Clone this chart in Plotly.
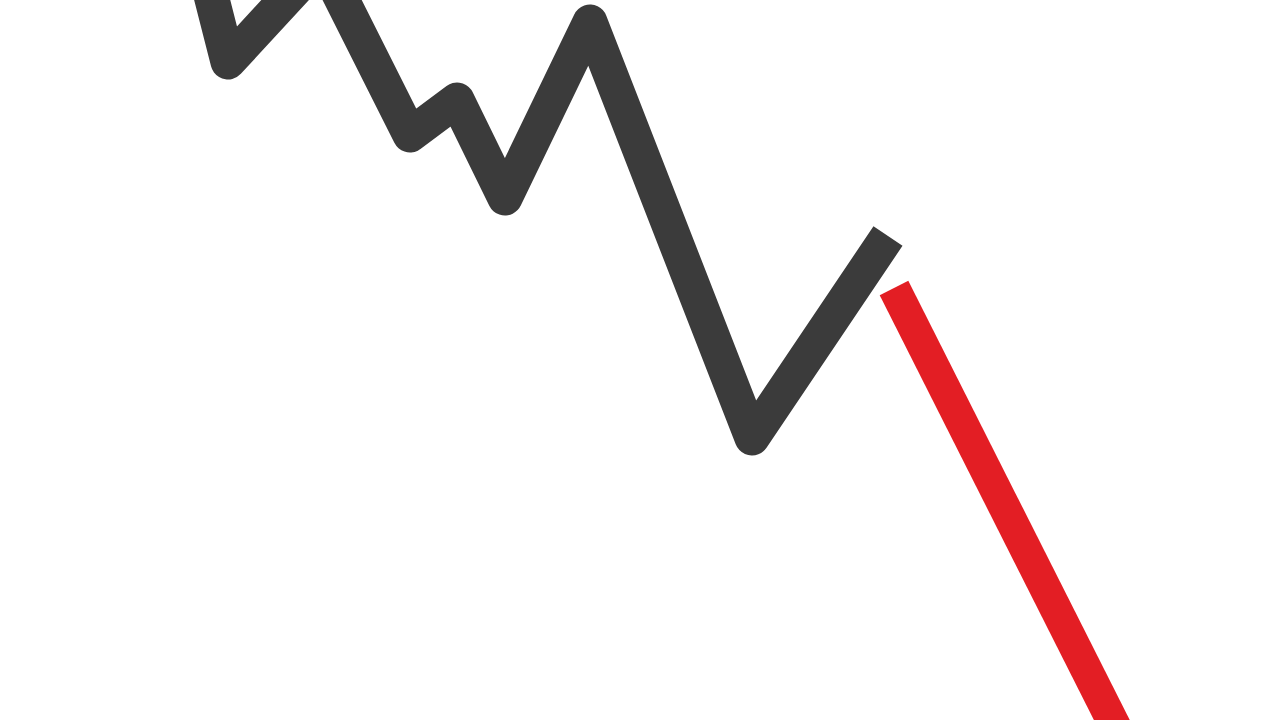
import plotly.graph_objects as go

# Dark falling series (time index, value)
gray_x = [202, 228, 322, 410, 457, 505, 590, 752, 888]
gray_y = [760, 658, 760, 585, 620, 522, 698, 282, 484]

# Red continuation (drop)
red_x = [894, 1132]
red_y = [432, -40]

fig = go.Figure()
fig.add_trace(go.Scatter(x=gray_x, y=gray_y, mode="lines",
                         line=dict(color="#3b3b3b", width=35),
                         hoverinfo="skip", showlegend=False))
fig.add_trace(go.Scatter(x=red_x, y=red_y, mode="lines",
                         line=dict(color="#e31e24", width=32),
                         hoverinfo="skip", showlegend=False))

fig.update_layout(
    width=1280, height=720,
    margin=dict(l=0, r=0, t=0, b=0),
    paper_bgcolor="white", plot_bgcolor="white",
    xaxis=dict(range=[0, 1280], visible=False, fixedrange=True),
    yaxis=dict(range=[0, 720], visible=False, fixedrange=True),
)

post = """
document.body.style.margin = '0';
document.body.style.overflow = 'hidden';
function roundJoins() {
  document.querySelectorAll('path.js-line').forEach(function (p) {
    p.style.strokeLinejoin = 'round';
  });
}
roundJoins();
var gd = document.getElementsByClassName('plotly-graph-div')[0];
if (gd && gd.on) { gd.on('plotly_afterplot', roundJoins); }
"""
fig.write_html("out.html", config={"displayModeBar": False}, post_script=post)
